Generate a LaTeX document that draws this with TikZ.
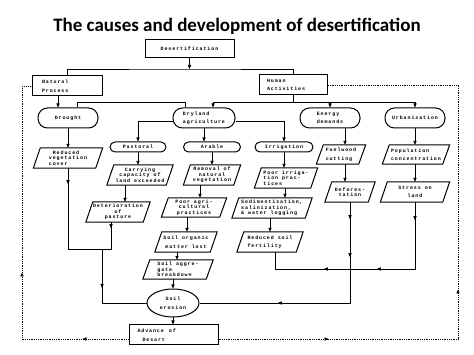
\documentclass[tikz,border=0pt]{standalone}
\usepackage{fontspec}
\setmainfont{Carlito}
\newfontfamily\boxfont[LetterSpace=18]{Liberation Mono}
\usepackage{tikz}
\usetikzlibrary{shapes.geometric,arrows.meta,decorations.markings}

\tikzset{
    box/.style={draw,line width=1pt,inner sep=1pt,align=center,font=\boxfont\bfseries\fontsize{5}{5.5}\selectfont},
    pill/.style={box,rounded corners=9.5pt},
    smallpill/.style={box,rounded corners=5pt},
    slant/.style={inner sep=1pt,align=center,font=\boxfont\bfseries\fontsize{5}{5.5}\selectfont},
    frame/.style={line width=1pt},
    link/.style={line width=0.7pt},
    arr/.style={link,-{Triangle[width=3.2pt,length=4pt]}},
    flowmark/.style={postaction={decorate,decoration={markings,mark=at position #1 with {\arrow{Triangle[width=3.2pt,length=4pt]}}}}},
    loopline/.style={line width=0.8pt,densely dotted}
}

\begin{document}
\begin{tikzpicture}[x=1pt,y=-1pt]
    \useasboundingbox (0,0) rectangle (474,355);
    
    % Judul
    \node[font=\bfseries\fontsize{19}{23}\selectfont] (title) at (237,26) {The causes and development of desertification};
    
    % Kotak utama dan dua cabang
    \node[box,minimum width=89pt,minimum height=18pt] (desert) at (189.5,49) {Desertification};
    \node[box,minimum width=70pt,minimum height=20pt,align=left,text width=50pt] (natural) at (67,86) {Natural\\[3pt]Process};
    \node[box,minimum width=68pt,minimum height=20pt,align=left,text width=52pt] (human) at (293,85) {Human\\[3pt]Activities};
    
    % Bentuk lonjong
    \node[pill,minimum width=60pt,minimum height=20pt] (drought) at (68,118) {Drought};
    \node[pill,minimum width=62pt,minimum height=20pt,align=left] (dryland) at (204,118) {Dryland\\[3pt]agriculture};
    \node[pill,minimum width=60pt,minimum height=20pt,align=left] (energy) at (330,118) {Energy\\[3pt]demands};
    \node[pill,minimum width=60pt,minimum height=20pt] (urban) at (415,118) {Urbanization};
    \node[smallpill,minimum width=56pt,minimum height=10pt] (pastoral) at (138,147) {Pastoral};
    \node[smallpill,minimum width=57pt,minimum height=10pt] (arable) at (212,147) {Arable};
    \node[smallpill,minimum width=58pt,minimum height=10pt] (irrigation) at (284,147) {Irrigation};
    
    % Jajar genjang (bingkai digambar di bawah)
    \node[slant,minimum width=62pt,minimum height=20pt,align=left] (reduced) at (68,158) {~Reduced\\vegetation\\cover};
    \node[slant,minimum width=59pt,minimum height=20pt] (carrying) at (140,175) {Carrying\\capacity of\\land exceeded};
    \node[slant,minimum width=57pt,minimum height=20pt] (deterior) at (118,212) {Deterioration\\of\\pasture};
    \node[slant,minimum width=50pt,minimum height=20pt] (removal) at (212,175) {Removal of\\natural\\vegetation};
    \node[slant,minimum width=58pt,minimum height=19pt] (pooragri) at (194,207.5) {Poor agri-\\cultural\\practices};
    \node[slant,minimum width=55pt,minimum height=20pt] (organic) at (186,242) {Soil organic\\[3pt]matter lost};
    \node[slant,minimum width=63pt,minimum height=19pt,align=left] (aggregate) at (178,269.5) {Soil aggre-\\gate\\breakdown};
    \node[slant,minimum width=56pt,minimum height=20pt,align=left] (poorirr) at (286,178) {Poor irriga-\\tion prac-\\tices};
    \node[slant,minimum width=73pt,minimum height=20pt,align=left] (sediment) at (272,208) {Sedimentization,\\salinization,\\\& water logging};
    \node[slant,minimum width=59pt,minimum height=20pt,align=left] (fertility) at (270,242) {Reduced soil\\[3pt]fertility};
    \node[slant,minimum width=42pt,minimum height=19pt,align=left] (fuelwood) at (341,154.5) {Fuelwood\\[3pt]cutting};
    \node[slant,minimum width=60pt,minimum height=19pt,align=left] (population) at (416,154.5) {Population\\[3pt]concentration};
    \node[slant,minimum width=43pt,minimum height=20pt] (defor) at (350,192) {Defores-\\tation};
    \node[slant,minimum width=62pt,minimum height=20pt] (stress) at (415,192) {Stress on\\[3pt]land};
    
    \foreach \n in {reduced,carrying,deterior,removal,pooragri,organic,aggregate,poorirr,sediment,fertility,fuelwood,population,defor,stress}
        \draw[frame] ([xshift=3.5pt]\n.north west) -- ([xshift=3.5pt]\n.north east) -- ([xshift=-3.5pt]\n.south east) -- ([xshift=-3.5pt]\n.south west) -- cycle;
    
    % Erosi dan hasil akhir
    \node[box,ellipse,minimum width=52pt,minimum height=28pt] (erosion) at (173,303) {Soil\\[3pt]erosion};
    \node[box,minimum width=89pt,minimum height=20pt,align=left,text width=72pt] (advance) at (173.5,335) {Advance~~~of\\[3pt]~~~Desart};
    
    % Titik bantu
    \coordinate (split) at (189.5,69);
    \coordinate (hub) at (293,102);
    \coordinate (drylink) at (185,102);
    \coordinate (join) at (102,249);
    \coordinate (fertlow) at (275,269);
    \coordinate (loopL) at (22,86);
    \coordinate (loopR) at (458,85);
    
    % Cabang atas
    \draw[arr] (desert.south) -- (split);
    \draw[link] (natural.north) |- (split) -| (human.north);
    \draw[arr] ([xshift=-9pt]natural.south) -- ([xshift=-10pt]drought.north);
    \draw[link] ([xshift=9pt]drought.north) |- (drylink) -- (drylink |- dryland.north);
    \draw[link] (human.south) -- (hub);
    \draw[arr] (hub) -| ([xshift=9pt]dryland.north);
    \draw[arr] (hub) -| (energy.north);
    \draw[arr] (hub) -| (urban.north);
    
    % Cabang kiri
    \draw[arr] (drought.south) -- (drought.south |- reduced.north);
    \draw[link,flowmark=16pt] (reduced.south) |- (join);
    \draw[link,flowmark=6pt] ([xshift=-7pt]deterior.south) |- (join);
    \draw[link,flowmark=39pt] (join) |- (erosion.west);
    
    % Cabang lahan kering
    \draw[arr] ([yshift=-3pt]dryland.west) -| (pastoral.north);
    \draw[arr] (dryland.south) -- (dryland.south |- arable.north);
    \draw[arr] ([yshift=-3pt]dryland.east) -| (irrigation.north);
    \draw[arr] (pastoral.south) -- (pastoral.south |- carrying.north);
    \draw[arr] ([xshift=-15pt]carrying.south) -- ([xshift=7pt]deterior.north);
    \draw[arr] (arable.south) -- (arable.south |- removal.north);
    \draw[arr] ([xshift=-12pt]removal.south) -- ([xshift=6pt]pooragri.north);
    \draw[arr] ([xshift=-7pt]pooragri.south) -- ([xshift=1pt]organic.north);
    \draw[arr] ([xshift=-9pt]organic.south) -- ([xshift=-1pt]aggregate.north);
    \draw[arr] ([xshift=-5pt]aggregate.south) -- (erosion.north);
    \draw[arr] (erosion.south) -- (erosion.south |- advance.north);
    \draw[arr] (irrigation.south) -- (irrigation.south |- poorirr.north);
    \draw[arr] ([xshift=-1pt]poorirr.south) -- ([xshift=13pt]sediment.north);
    \draw[arr] (sediment.south -| fertility.north) -- (fertility.north);
    
    % Cabang energi dan kota
    \draw[arr] ([xshift=15pt]energy.south) -- ([xshift=4pt]fuelwood.north);
    \draw[arr] ([xshift=4pt]fuelwood.south) -- ([xshift=-5pt]defor.north);
    \draw[arr] (urban.south) -- (urban.south |- population.north);
    \draw[arr] (population.south -| stress.north) -- (stress.north);
    \draw[link,flowmark=17pt,flowmark=55pt,flowmark=173pt] (defor.south) |- (erosion.east);
    \draw[link,flowmark=18pt,flowmark=105pt,flowmark=158pt] (stress.south) |- (fertlow) -- (fertlow |- fertility.south);
    
    % Garis titik umpan balik
    \draw[loopline,flowmark=46pt,flowmark=173pt] ([yshift=-4pt]advance.west) -| (loopL) -- (natural.west);
    \draw[loopline,flowmark=110pt,flowmark=289pt] ([yshift=-4pt]advance.east) -| (loopR) -- (human.east);
    
\end{tikzpicture}
\end{document}
